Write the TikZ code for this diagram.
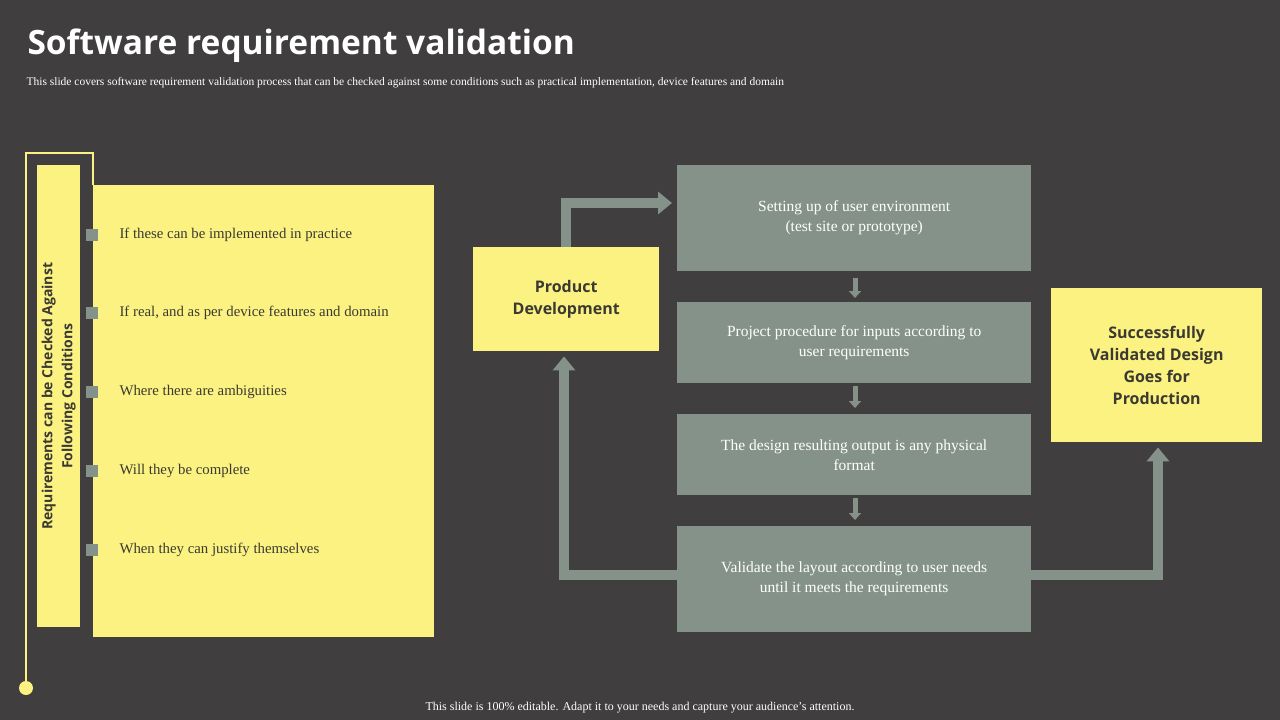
\documentclass[tikz,border=0pt]{standalone}
\usepackage{fontspec}
\setmainfont{Liberation Serif}
\newfontfamily\hd{Open Sans}
\usetikzlibrary{arrows.meta}
\definecolor{bg}{HTML}{403E3F}
\definecolor{yl}{HTML}{FCF281}
\definecolor{gr}{HTML}{85928A}
\definecolor{dk}{HTML}{3A3A33}
\tikzset{
  ybox/.style={fill=yl,draw=none},
  gbox/.style={fill=gr,draw=none,text=white,align=center,font=\fontsize{15.5}{20}\selectfont,inner sep=0},
  bul/.style={anchor=west,text=dk,font=\fontsize{14.8}{17}\selectfont},
  fat/.style={draw=gr,line width=10pt,shorten >=5pt,-{Triangle[length=14pt,width=22pt]}},
  small/.style={draw=gr,line width=5pt,-{Triangle[length=7pt,width=12pt]}}
}
\begin{document}
\begin{tikzpicture}[x=1pt,y=-1pt]
\fill[bg] (0,0) rectangle (1280,720);
\useasboundingbox (0,0) rectangle (1280,720);
\node[anchor=west,text=white,font=\hd\bfseries\fontsize{33.5}{38}\selectfont] (title) at (24,46) {Software requirement validation};
\node[anchor=west,text=white,font=\fontsize{11.5}{13}\selectfont] (sub) at (23,83) {This slide covers software requirement validation process that can be checked against some conditions such as practical implementation, device features and domain};
% left outline
\draw[yl,line width=1.2pt] (93,185) -- (93,153) -- (26,153) -- (26,688);
\fill[yl] (26,688) circle (7);
\node[ybox,minimum width=43,minimum height=462,anchor=north west] (strip) at (37,165) {};
\node[rotate=90,align=center,text=dk,font=\hd\bfseries\fontsize{14}{20}\selectfont] (striptext) at (strip.center) {Requirements can be Checked Against\\Following Conditions};
\node[ybox,minimum width=341,minimum height=452,anchor=north west] (big) at (93,185) {};
\foreach \y/\t in {235/{If these can be implemented in practice},313/{If real, and as per device features and domain},392/{Where there are ambiguities},471/{Will they be complete},550/{When they can justify themselves}}{
  \fill[gr] (86,\y-6) rectangle (98,\y+6);
  \node[bul] at (116,\y) {\t};
}
\node[ybox,minimum width=186,minimum height=104,anchor=north west,align=center,text=dk,font=\hd\bfseries\fontsize{16}{22}\selectfont] (pd) at (473,247) {Product\\Development};
\node[gbox,minimum width=354,minimum height=106,anchor=north west] (g1) at (677,165) {Setting up of user environment\\(test site or prototype)};
\node[gbox,minimum width=354,minimum height=81,anchor=north west] (g2) at (677,302) {Project procedure for inputs according to\\user requirements};
\node[gbox,minimum width=354,minimum height=81,anchor=north west] (g3) at (677,414) {The design resulting output is any physical\\format};
\node[gbox,minimum width=354,minimum height=106,anchor=north west] (g4) at (677,526) {Validate the layout according to user needs\\until it meets the requirements};
\node[ybox,minimum width=211,minimum height=154,anchor=north west,align=center,text=dk,font=\hd\bfseries\fontsize{16}{22}\selectfont] (res) at (1051,288) {Successfully\\Validated Design\\Goes for\\Production};
\draw[fat] (pd.north -| 566,0) -- (566,203) -- (g1.west |- 0,203);
\draw[fat] (g4.west |- 0,575) -- (564,575) -- (pd.south -| 564,0);
\draw[fat] (g4.east |- 0,575) -- (1158,575) -- (res.south -| 1158,0);
\draw[small] (g1.south -| 855,0) ++(0,7) -- (855,298);
\draw[small] (g2.south -| 855,0) ++(0,3) -- (855,408);
\draw[small] (g3.south -| 855,0) ++(0,3) -- (855,520);
\node[text=white,font=\fontsize{12}{14}\selectfont] (foot) at (640,708) {This slide is 100\% editable. Adapt it to your needs and capture your audience's attention.};
\end{tikzpicture}
\end{document}
